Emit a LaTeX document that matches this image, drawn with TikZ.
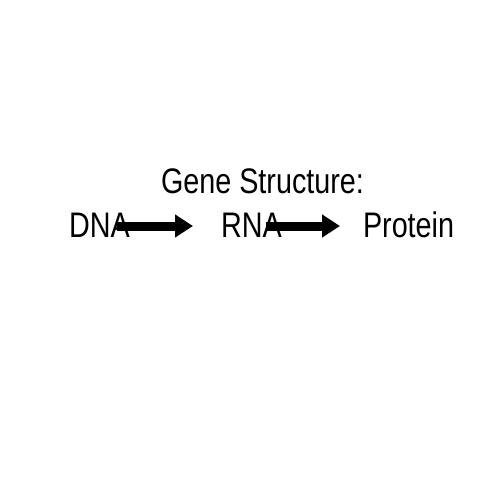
\documentclass[tikz,border=0pt]{standalone}
\usepackage{fontspec}
\setmainfont{Liberation Sans}
\usetikzlibrary{arrows.meta}
\begin{document}
\begin{tikzpicture}[x=1pt,y=-1pt,
  lbl/.style={inner sep=0pt,outer sep=0pt,anchor=base west,font=\fontsize{35.5}{40}\selectfont,xscale=0.81},
  bigarrow/.style={line width=9pt,-{Triangle[length=18pt,width=22pt]}}]
\fill[white] (0,0) rectangle (480,480);
\useasboundingbox (0,0) rectangle (480,480);
\node[lbl] (title) at (161,193) {Gene Structure:};
\node[lbl] (dna) at (69,237) {DNA};
\node[lbl] (rna) at (221,237) {RNA};
\node[lbl] (protein) at (363,237) {Protein};
\draw[bigarrow] ([xshift=-13pt,yshift=11pt]dna.base east) -- ([xshift=-28pt,yshift=11pt]rna.base west);
\draw[bigarrow] ([xshift=-16pt,yshift=11pt]rna.base east) -- ([xshift=-23pt,yshift=11pt]protein.base west);
\end{tikzpicture}
\end{document}
